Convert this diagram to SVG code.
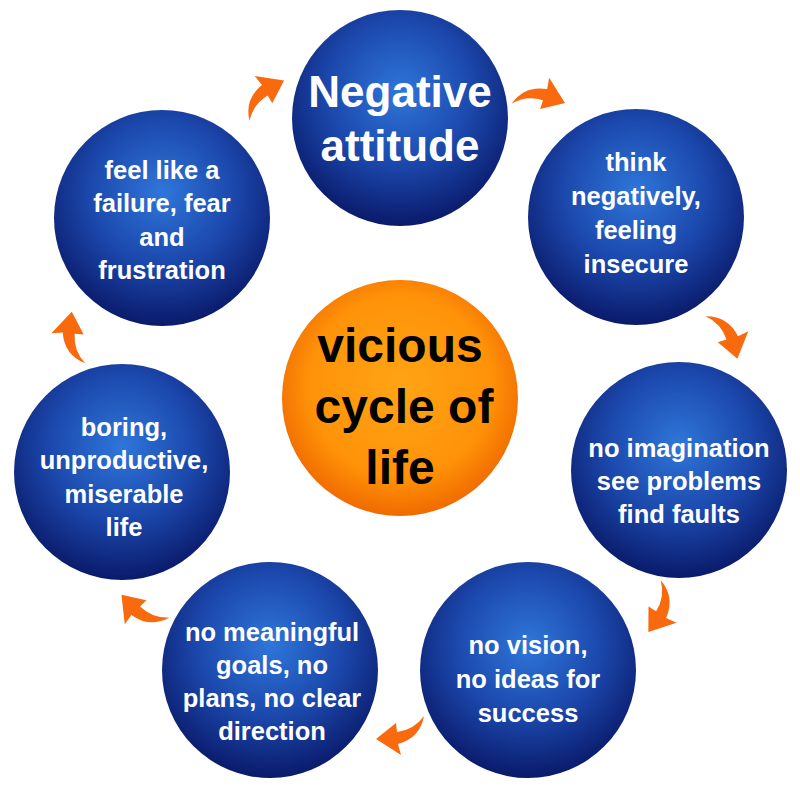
<svg xmlns="http://www.w3.org/2000/svg" xmlns:xlink="http://www.w3.org/1999/xlink" width="800" height="800" viewBox="0 0 800 800">
<defs>
<radialGradient id="blue" cx="50%" cy="38%" r="62%">
<stop offset="0" stop-color="#2f76da"/><stop offset="0.55" stop-color="#1b47ab"/><stop offset="1" stop-color="#0a1a6a"/>
</radialGradient>
<radialGradient id="orange" cx="50%" cy="45%" r="55%">
<stop offset="0" stop-color="#ffa416"/><stop offset="0.7" stop-color="#ff9208"/><stop offset="1" stop-color="#f06a00"/>
</radialGradient>
<path id="arr" d="M376,84 Q380,62 402,56 L399,45 L424,61 L404,77 L403,68 Q386,70 376,84 Z" fill="#f96a0e"/>
<style>
.b{fill:url(#blue)}
.t{fill:#fff;font-family:"Liberation Sans",Arial,sans-serif;font-weight:bold;font-size:25.5px;text-anchor:middle}
.c{fill:#000;font-family:"Liberation Sans",Arial,sans-serif;font-weight:bold;font-size:48px;text-anchor:middle}
</style>
</defs>
<rect width="800" height="800" fill="#fff"/>
<g id="connectors">
<use xlink:href="#arr" transform="rotate(-24 400 400)"/>
<use xlink:href="#arr" transform="rotate(25 400 400)"/>
<use xlink:href="#arr" transform="rotate(79 400 400)"/>
<use xlink:href="#arr" transform="rotate(129 400 400)"/>
<use xlink:href="#arr" transform="rotate(180 400 400)"/>
<use xlink:href="#arr" transform="rotate(231 400 400)"/>
<use xlink:href="#arr" transform="rotate(281 400 400)"/>
</g>
<g id="center"><circle cx="400" cy="398" r="118" fill="url(#orange)"/>
<text class="c" x="400" y="362">vicious</text><text class="c" x="404" y="423">cycle of</text><text class="c" x="400" y="484">life</text></g>
<g id="n1"><circle class="b" cx="400" cy="118" r="108"/>
<text class="t" style="font-size:44px" x="400" y="107">Negative</text><text class="t" style="font-size:44px" x="400" y="161">attitude</text></g>
<g id="n2"><circle class="b" cx="636" cy="217" r="108"/>
<text class="t" x="636" y="171">think</text><text class="t" x="636" y="205">negatively,</text><text class="t" x="636" y="239">feeling</text><text class="t" x="636" y="273">insecure</text></g>
<g id="n3"><circle class="b" cx="679" cy="470" r="108"/>
<text class="t" x="679" y="457">no imagination</text><text class="t" x="679" y="490">see problems</text><text class="t" x="679" y="523">find faults</text></g>
<g id="n4"><circle class="b" cx="528" cy="670" r="108"/>
<text class="t" x="528" y="654">no vision,</text><text class="t" x="528" y="688">no ideas for</text><text class="t" x="528" y="722">success</text></g>
<g id="n5"><circle class="b" cx="270" cy="670" r="108"/>
<text class="t" x="272" y="641">no meaningful</text><text class="t" x="272" y="674">goals, no</text><text class="t" x="272" y="707">plans, no clear</text><text class="t" x="272" y="740">direction</text></g>
<g id="n6"><circle class="b" cx="122" cy="472" r="108"/>
<text class="t" x="124" y="436">boring,</text><text class="t" x="124" y="469">unproductive,</text><text class="t" x="124" y="503">miserable</text><text class="t" x="124" y="536">life</text></g>
<g id="n7"><circle class="b" cx="162" cy="218" r="108"/>
<text class="t" x="162" y="179">feel like a</text><text class="t" x="162" y="212">failure, fear</text><text class="t" x="162" y="246">and</text><text class="t" x="162" y="279">frustration</text></g>
</svg>
